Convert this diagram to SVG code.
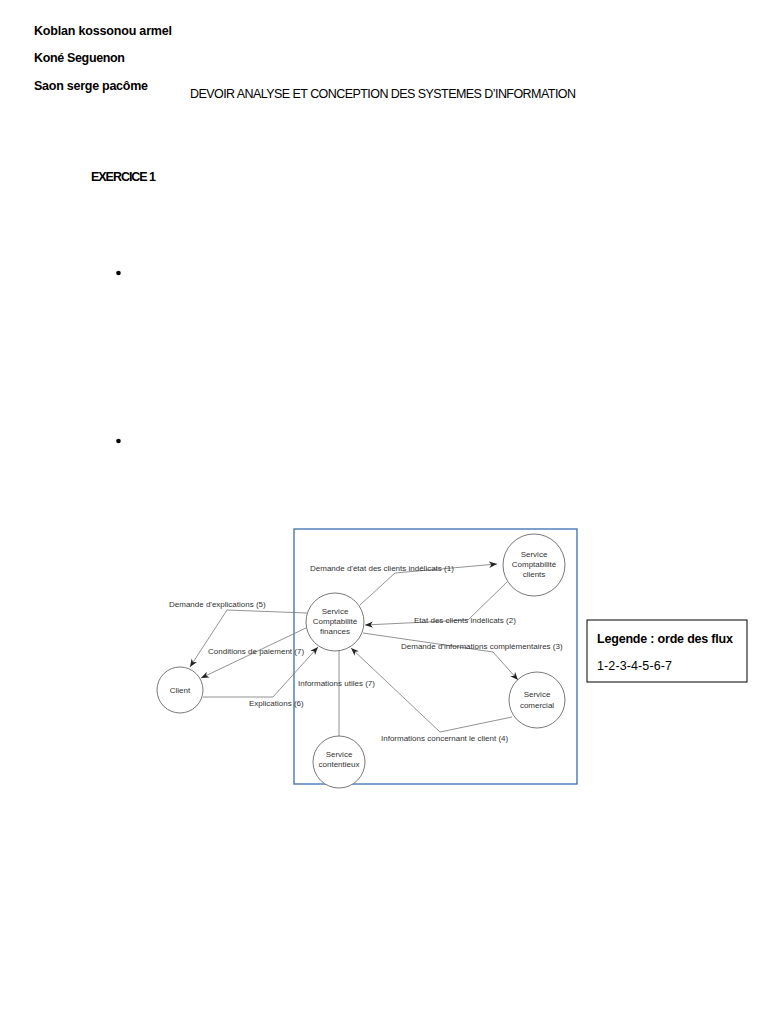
<svg xmlns="http://www.w3.org/2000/svg" width="768" height="1024" viewBox="0 0 768 1024">
<style>
.h{font-family:"Liberation Sans",Arial,sans-serif;font-size:12.5px;fill:#000}
.b{font-weight:bold}
.n{fill:#fff;stroke:#555;stroke-width:0.8}
.nt{font-family:"Liberation Sans",Arial,sans-serif;font-size:8px;fill:#333;text-anchor:middle}
.l{font-family:"Liberation Sans",Arial,sans-serif;font-size:8px;fill:#333}
.e{fill:none;stroke:#777;stroke-width:0.8;marker-end:url(#a)}
</style>
<defs><marker id="a" viewBox="0 0 10 10" refX="10" refY="5" markerWidth="8" markerHeight="8" orient="auto" markerUnits="userSpaceOnUse"><path d="M0,1 L10,5 L0,9 L3,5 z" fill="#222"/></marker></defs>
<rect width="768" height="1024" fill="#fff"/>
<text class="h b" x="34" y="35" textLength="138">Koblan kossonou armel</text>
<text class="h b" x="34" y="62" textLength="91">Koné Seguenon</text>
<text class="h b" x="34" y="90" textLength="114">Saon serge pacôme</text>
<text class="h" x="190" y="98" textLength="386">DEVOIR ANALYSE ET CONCEPTION DES SYSTEMES D’INFORMATION</text>
<text class="h b" x="91" y="181" textLength="65">EXERCICE 1</text>
<circle cx="118.5" cy="273" r="2.3" fill="#000"/>
<circle cx="118.5" cy="441" r="2.3" fill="#000"/>
<rect x="294" y="529" width="283" height="255" fill="none" stroke="#3a6fb0" stroke-width="1.3"/>
<g id="connectors">
<path class="e" d="M360,605 L395,573 L497,564"/>
<path class="e" d="M507,582 L468,620 L365,625"/>
<path class="e" d="M363,633 L493,652 L518,680"/>
<path class="e" d="M512,717 L440,732 L351,648"/>
<path class="e" d="M307,613 L227,610 L190,667"/>
<path class="e" d="M308,627 L201,678"/>
<path class="e" d="M203,697 L273,697 L318,647"/>
<path class="e" d="M339,648 L339,755"/>
<text class="l" x="310" y="571">Demande d'état des clients indélicats (1)</text>
<text class="l" x="414" y="623">Etat des clients indélicats (2)</text>
<text class="l" x="401" y="649">Demande d'informations complémentaires (3)</text>
<text class="l" x="381" y="741">Informations concernant le client (4)</text>
<text class="l" x="169" y="607">Demande d'explications (5)</text>
<text class="l" x="208" y="654">Conditions de paiement (7)</text>
<text class="l" x="298" y="686">Informations utiles (7)</text>
<text class="l" x="249" y="706">Explications (6)</text>
</g>
<g id="finances"><circle class="n" cx="335" cy="622" r="29"/><text class="nt" x="335" y="614">Service</text><text class="nt" x="335" y="624">Comptabilité</text><text class="nt" x="335" y="634">finances</text></g>
<g id="clients"><circle class="n" cx="534" cy="565" r="31"/><text class="nt" x="534" y="557">Service</text><text class="nt" x="534" y="567">Comptabilité</text><text class="nt" x="534" y="577">clients</text></g>
<g id="client"><circle class="n" cx="180" cy="690" r="23"/><text class="nt" x="180" y="693">Client</text></g>
<g id="comercial"><circle class="n" cx="537" cy="700" r="28"/><text class="nt" x="537" y="697">Service</text><text class="nt" x="537" y="708">comercial</text></g>
<g id="contentieux"><circle class="n" cx="339" cy="762" r="26"/><text class="nt" x="339" y="757">Service</text><text class="nt" x="339" y="767">contentieux</text></g>
<g id="legende">
<rect x="587" y="620" width="160" height="62" fill="#fff" stroke="#000" stroke-width="1"/>
<text class="h b" x="597" y="643" textLength="136">Legende : orde des flux</text>
<text class="h" x="597" y="670" textLength="75">1-2-3-4-5-6-7</text>
</g>
</svg>
